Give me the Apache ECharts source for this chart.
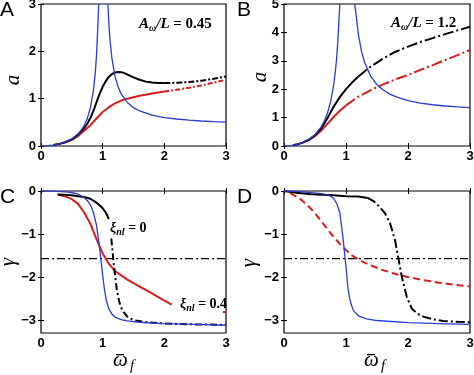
<!DOCTYPE html>
<html>
<head>
<meta charset="utf-8">
<script src="https://cdn.jsdelivr.net/npm/echarts@6/dist/echarts.min.js"></script>
<style>
html, body { margin: 0; padding: 0; background: #fff; }
#chart { width: 474px; height: 375px; }
</style>
</head>
<body>
<div id="chart"></div>
<script>
// tick values
const freqTicks = [0, 1, 2, 3];
const ampTicksA = [0, 1, 2, 3];
const ampTicksB = [0, 1, 2, 3, 4, 5];
const phaseTicks = [-3, -2, -1, 0];
const halfPiLine = [[0, -1.5708], [3, -1.5708]];

// panel A, A_w/L = 0.45
const blueA1 = [[0, 0], [0.1, 0.005], [0.2, 0.019], [0.3, 0.045], [0.4, 0.086], [0.5, 0.15], [0.6, 0.253], [0.65, 0.33], [0.7, 0.432], [0.75, 0.579], [0.8, 0.8], [0.85, 1.17], [0.88, 1.54], [0.9, 1.92], [0.92, 2.48], [0.935, 3]];
const blueA2 = [[1.085, 3], [1.1, 2.59], [1.12, 2.22], [1.15, 1.85], [1.2, 1.47], [1.25, 1.25], [1.3, 1.1], [1.4, 0.92], [1.5, 0.81], [1.6, 0.74], [1.8, 0.65], [2.0, 0.6], [2.2, 0.57], [2.4, 0.545], [2.6, 0.528], [2.8, 0.516], [3.0, 0.506]];
const blackA = [[0.2, 0.02], [0.3, 0.045], [0.4, 0.085], [0.5, 0.14], [0.6, 0.24], [0.7, 0.38], [0.75, 0.47], [0.8, 0.59], [0.85, 0.74], [0.9, 0.92], [0.95, 1.1], [1.0, 1.25], [1.05, 1.37], [1.1, 1.46], [1.15, 1.52], [1.2, 1.555], [1.25, 1.565], [1.3, 1.56], [1.35, 1.54], [1.4, 1.51], [1.5, 1.45], [1.6, 1.4], [1.7, 1.36], [1.8, 1.34], [1.9, 1.33], [2.0, 1.33]];
const blackA2 = [[2.0, 1.33], [2.2, 1.335], [2.4, 1.35], [2.6, 1.38], [2.8, 1.42], [3.0, 1.47]];
const redA = [[0.2, 0.02], [0.3, 0.045], [0.4, 0.08], [0.5, 0.13], [0.6, 0.21], [0.7, 0.32], [0.8, 0.44], [0.9, 0.58], [1.0, 0.72], [1.1, 0.82], [1.2, 0.9], [1.3, 0.96], [1.4, 1.0], [1.5, 1.03], [1.6, 1.06], [1.8, 1.11], [2.0, 1.15]];
const redA2 = [[2.0, 1.15], [2.2, 1.19], [2.4, 1.23], [2.6, 1.28], [2.8, 1.34], [3.0, 1.4]];

// panel B, A_w/L = 1.2
const blueB1 = [[0, 0], [0.1, 0.012], [0.2, 0.05], [0.3, 0.119], [0.4, 0.229], [0.5, 0.4], [0.6, 0.675], [0.65, 0.88], [0.7, 1.153], [0.75, 1.543], [0.8, 2.133], [0.83, 2.657], [0.85, 3.12], [0.87, 3.736], [0.89, 4.572], [0.9, 5]];
const blueB2 = [[1.14, 5], [1.16, 4.672], [1.2, 3.93], [1.25, 3.333], [1.3, 2.94], [1.4, 2.45], [1.5, 2.16], [1.6, 1.97], [1.7, 1.835], [1.8, 1.736], [2.0, 1.6], [2.2, 1.51], [2.4, 1.452], [2.6, 1.408], [2.8, 1.375], [3.0, 1.35]];
const blackB = [[0.15, 0.03], [0.2, 0.05], [0.3, 0.12], [0.4, 0.22], [0.5, 0.38], [0.6, 0.62], [0.7, 0.98], [0.8, 1.38], [0.9, 1.72], [1.0, 2.0], [1.1, 2.24], [1.2, 2.45]];
const blackB2 = [[1.2, 2.45], [1.4, 2.8], [1.6, 3.08], [1.8, 3.32], [2.0, 3.5], [2.2, 3.66], [2.4, 3.8], [2.6, 3.94], [2.8, 4.07], [3.0, 4.2]];
const redB = [[0.15, 0.03], [0.2, 0.05], [0.3, 0.12], [0.4, 0.21], [0.5, 0.35], [0.6, 0.54], [0.7, 0.78], [0.8, 1.02], [0.9, 1.24], [1.0, 1.43]];
const redB2 = [[1.0, 1.43], [1.2, 1.74], [1.4, 1.97], [1.6, 2.17], [1.8, 2.35], [2.0, 2.5], [2.2, 2.68], [2.4, 2.85], [2.6, 3.03], [2.8, 3.2], [3.0, 3.38]];

// panel C, phase
const blueC = [[0, 0], [0.2, -0.005], [0.4, -0.02], [0.5, -0.035], [0.6, -0.07], [0.7, -0.15], [0.75, -0.22], [0.8, -0.32], [0.85, -0.5], [0.9, -0.8], [0.93, -1.1], [0.95, -1.33], [0.97, -1.57], [1.0, -1.95], [1.03, -2.3], [1.06, -2.55], [1.1, -2.74], [1.15, -2.86], [1.2, -2.93], [1.3, -2.99], [1.4, -3.02], [1.6, -3.05], [2.0, -3.08], [2.5, -3.1], [3.0, -3.12]];
const blackC = [[0.27, -0.08], [0.4, -0.09], [0.5, -0.1], [0.6, -0.12], [0.7, -0.14], [0.8, -0.18], [0.9, -0.27], [0.95, -0.33], [1.0, -0.4], [1.05, -0.5], [1.1, -0.65]];
const blackC2 = [[1.14, -1.1], [1.16, -1.4], [1.18, -1.7], [1.2, -1.95], [1.23, -2.3], [1.27, -2.58], [1.32, -2.78], [1.4, -2.92], [1.5, -3.0], [1.7, -3.05], [2.0, -3.08], [2.5, -3.1], [3.0, -3.11]];
const redC = [[0.27, -0.08], [0.4, -0.13], [0.5, -0.19], [0.6, -0.3], [0.7, -0.5], [0.8, -0.76], [0.9, -1.12], [1.0, -1.45], [1.1, -1.69], [1.2, -1.86], [1.3, -1.96], [1.4, -2.06], [1.6, -2.22], [1.8, -2.38], [2.0, -2.55], [2.12, -2.64]];
const redC2 = [[2.95, -2.81], [3.0, -2.82]];

// panel D, phase
const blueD = [[0, 0], [0.2, -0.01], [0.4, -0.03], [0.6, -0.06], [0.7, -0.09], [0.75, -0.12], [0.8, -0.17], [0.85, -0.29], [0.9, -0.5], [0.93, -0.83], [0.96, -1.2], [0.98, -1.5], [1.0, -1.75], [1.03, -2.25], [1.06, -2.5], [1.09, -2.66], [1.12, -2.78], [1.2, -2.9], [1.33, -2.97], [1.5, -3.01], [2.0, -3.06], [2.5, -3.08], [3.0, -3.1]];
const blackD = [[0, 0], [0.2, -0.04], [0.4, -0.07], [0.6, -0.09], [0.8, -0.1], [1.0, -0.12], [1.2, -0.13], [1.35, -0.16]];
const blackD2 = [[1.35, -0.16], [1.45, -0.24], [1.55, -0.38], [1.63, -0.52], [1.71, -0.75], [1.79, -1.14], [1.84, -1.53], [1.9, -1.99], [1.98, -2.46], [2.06, -2.73], [2.15, -2.85], [2.25, -2.92], [2.4, -2.98], [2.57, -3.02], [2.8, -3.04], [3.0, -3.05]];
const redD = [[0.1, -0.05], [0.25, -0.17], [0.4, -0.36], [0.5, -0.52], [0.6, -0.7], [0.75, -0.98], [0.9, -1.23], [1.0, -1.37], [1.1, -1.5], [1.25, -1.63], [1.4, -1.73], [1.6, -1.84], [1.8, -1.93], [2.0, -2.0], [2.25, -2.07], [2.5, -2.13], [2.75, -2.18], [3.0, -2.22]];

const BLUE = '#2a3ccf';
const RED = '#db1c1c';
const BLACK = '#000';
const DASHDOT = [8, 3, 2, 3];
const SANS = '"Liberation Sans", Arial, sans-serif';
const SERIF = '"Liberation Serif", "DejaVu Serif", serif';
// big annotation fonts (A_w/L) and smaller ones (xi_nl)
const MI = 'italic bold 15px ' + SERIF;
const MR = 'bold 15px ' + SERIF;
const MS = 'italic bold 10px ' + SERIF;
const XI = 'italic bold 14px ' + SERIF;
const XR = 'bold 14px ' + SERIF;
const XS = 'italic bold 10px ' + SERIF;

const grids = [
  { left: 41, top: 4, width: 185, height: 142 },
  { left: 284, top: 4, width: 186, height: 142 },
  { left: 41, top: 191, width: 185, height: 142 },
  { left: 284, top: 191, width: 186, height: 142 },
];

const minus = (v) => (v < 0 ? '\u2212' + Math.abs(v) : String(v));

function xAxes() {
  const list = [];
  [false, true].forEach((top) => {
    grids.forEach((g, i) => {
      list.push({
        type: 'value',
        gridIndex: i,
        position: top ? 'top' : 'bottom',
        min: 0,
        max: 3,
        interval: 1,
        axisLine: { show: false },
        splitLine: { show: false },
        axisTick: { inside: true, length: 3, customValues: freqTicks, lineStyle: { color: '#000' } },
        axisLabel: {
          show: !top,
          customValues: freqTicks,
          margin: 4,
          color: '#000',
          fontFamily: SANS,
          fontWeight: 'bold',
          fontSize: 13,
        },
      });
    });
  });
  return list;
}

function yAxes() {
  const ranges = [
    { min: 0, max: 3, ticks: ampTicksA },
    { min: 0, max: 5, ticks: ampTicksB },
    { min: -3.3, max: 0, ticks: phaseTicks },
    { min: -3.3, max: 0, ticks: phaseTicks },
  ];
  const list = [];
  [false, true].forEach((right) => {
    ranges.forEach((r, i) => {
      list.push({
        type: 'value',
        gridIndex: i,
        position: right ? 'right' : 'left',
        min: r.min,
        max: r.max,
        axisLine: { show: false },
        splitLine: { show: false },
        axisTick: { inside: true, length: 3, customValues: r.ticks, lineStyle: { color: '#000' } },
        axisLabel: {
          show: !right,
          customValues: r.ticks,
          formatter: minus,
          margin: 5,
          color: '#000',
          fontFamily: SANS,
          fontWeight: 'bold',
          fontSize: 13,
        },
      });
    });
  });
  return list;
}

function line(panel, data, color, width, type) {
  return {
    type: 'line',
    xAxisIndex: panel,
    yAxisIndex: panel,
    data: data,
    symbol: 'none',
    silent: true,
    lineStyle: { color: color, width: width, type: type || 'solid' },
    z: color === BLUE ? 3 : 2,
  };
}

function txt(left, top, text) {
  return {
    type: 'text',
    left: left,
    top: top,
    silent: true,
    style: { text: text, fill: '#000', font: '21px ' + SANS },
  };
}

// lay out italic math pieces one after another (subscripts shifted down)
const measureCtx = document.createElement('canvas').getContext('2d');
function mathText(x, y, parts) {
  let cx = 0;
  const children = parts.map((p) => {
    measureCtx.font = p[1];
    const el = {
      type: 'text',
      style: { text: p[0], font: p[1], fill: '#000', x: cx, y: p[2] || 0, verticalAlign: 'middle' },
    };
    cx += measureCtx.measureText(p[0]).width;
    return el;
  });
  return { type: 'group', x: x, y: y, silent: true, children: children };
}

function ylabel(cx, cy, text) {
  return {
    type: 'text',
    x: cx,
    y: cy,
    rotation: Math.PI / 2,
    silent: true,
    style: { text: text, fill: '#000', font: 'italic 21px ' + SERIF, align: 'center', verticalAlign: 'middle' },
  };
}

function xlabel(x, y) {
  return {
    type: 'group',
    x: x,
    y: y,
    silent: true,
    children: [
      { type: 'text', style: { text: '\u03c9', fill: '#000', font: 'italic 21px ' + SERIF, x: 0, y: 0 } },
      { type: 'rect', shape: { x: 3, y: 4, width: 8, height: 1.3 }, style: { fill: '#000' } },
      { type: 'text', style: { text: 'f', fill: '#000', font: 'italic 15px ' + SERIF, x: 17, y: 9 } },
    ],
  };
}

const chart = echarts.init(document.getElementById('chart'), null, { renderer: 'canvas' });
chart.setOption({
  animation: false,
  backgroundColor: '#fff',
  grid: grids.map((g) => Object.assign({ show: true, borderColor: '#000', borderWidth: 1.2, backgroundColor: 'transparent', outerBoundsMode: 'none' }, g)),
  xAxis: xAxes(),
  yAxis: yAxes(),
  series: [
    line(0, blueA1, BLUE, 1.3),
    line(0, blueA2, BLUE, 1.3),
    line(0, redA, RED, 2),
    line(0, redA2, RED, 2, [5, 2, 2, 2]),
    line(0, blackA, BLACK, 2),
    line(0, blackA2, BLACK, 2, [6, 2, 2, 2]),

    line(1, blueB1, BLUE, 1.3),
    line(1, blueB2, BLUE, 1.3),
    line(1, redB, RED, 2),
    line(1, redB2, RED, 2, [11, 3, 2, 3]),
    line(1, blackB, BLACK, 2),
    line(1, blackB2, BLACK, 2, [11, 3, 2, 3]),

    line(2, halfPiLine, BLACK, 1.2, DASHDOT),
    line(2, blueC, BLUE, 1.3),
    line(2, redC, RED, 2),
    line(2, redC2, RED, 2),
    line(2, blackC, BLACK, 2),
    line(2, blackC2, BLACK, 2, [7, 3, 2, 3]),

    line(3, halfPiLine, BLACK, 1.2, DASHDOT),
    line(3, blueD, BLUE, 1.3),
    line(3, redD, RED, 2, [7, 4]),
    line(3, blackD, BLACK, 2),
    line(3, blackD2, BLACK, 2, [9, 3, 2, 3]),
  ],
  graphic: [
    txt(0, 0, 'A'),
    txt(237, 0, 'B'),
    txt(0, 187, 'C'),
    txt(237, 187, 'D'),
    ylabel(13, 80, 'a'),
    ylabel(260, 77, 'a'),
    ylabel(8, 262, '\u03b3'),
    ylabel(249, 263, '\u03b3'),
    xlabel(113, 350),
    xlabel(364, 350),
    mathText(139, 24, [['A', MI], ['\u03c9', MS, 4], ['/L', MI], [' = 0.45', MR]]),
    mathText(391, 23, [['A', MI], ['\u03c9', MS, 4], ['/L', MI], [' = 1.2', MR]]),
    mathText(110, 228, [['\u03be', XI], ['nl', XS, 4], [' = 0', XR]]),
    mathText(180, 304, [['\u03be', XI], ['nl', XS, 4], [' = 0.4', XR]]),
  ],
});
</script>
</body>
</html>
